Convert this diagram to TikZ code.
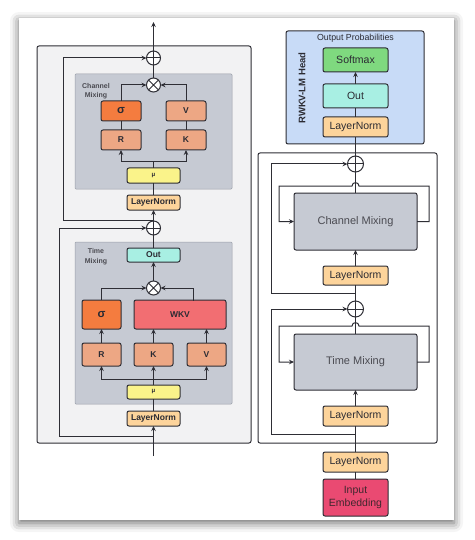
\documentclass[tikz,border=0pt]{standalone}
\usepackage{fontspec}
\setmainfont{Liberation Sans}
\usetikzlibrary{arrows.meta,shadows.blur,calc}
\definecolor{bd}{HTML}{2E2E35}
\definecolor{txt}{HTML}{2B2B33}
\definecolor{lnc}{HTML}{FDD49B}
\definecolor{muc}{HTML}{FAF38A}
\definecolor{rkv}{HTML}{EDA784}
\definecolor{sig}{HTML}{F47C3F}
\definecolor{wkvc}{HTML}{F26E72}
\definecolor{outc}{HTML}{A8EFE3}
\definecolor{grayp}{HTML}{C6CAD3}
\definecolor{grayb}{HTML}{9A9FA9}
\definecolor{lightp}{HTML}{F2F2F3}
\definecolor{headc}{HTML}{C8DBF7}
\definecolor{smc}{HTML}{7FD97F}
\definecolor{embc}{HTML}{EA4A72}
\begin{document}
\begin{tikzpicture}[x=1pt,y=-1pt,
  every node/.style={inner sep=0pt,outer sep=0pt},
  box/.style={draw=bd,line width=1pt,rounded corners=2pt,text=txt,align=center},
  lb/.style={box,font=\bfseries\fontsize{8.5}{9}\selectfont},
  rb/.style={box,minimum width=65pt,font=\fontsize{10.5}{12.7}\selectfont},
  op/.style={circle,draw=bd,line width=1pt,minimum size=14pt,fill=white},
  conn/.style={draw=bd,line width=1pt},
  ar/.style={conn,-{Stealth[length=5pt,width=4.5pt]}},
  panel/.style={draw=bd,line width=1pt,rounded corners=2pt},
  gpanel/.style={draw=grayb,line width=0.5pt,fill=grayp,rounded corners=1pt}
]
\useasboundingbox (0,0) rectangle (474,540);
% card
\fill[white,blur shadow={shadow xshift=0pt,shadow yshift=-3pt,shadow blur radius=9pt,shadow opacity=60}] (19,18) rectangle (454,520);

% ================= LEFT =================
\filldraw[panel,fill=lightp] (37,46) rectangle (251,443);
\filldraw[gpanel] (75,74) rectangle (232,189);
\filldraw[gpanel] (75,242) rectangle (232,404);
\node[font=\bfseries\fontsize{7}{9}\selectfont,text=txt!85,align=center] (lcm) at (96,91) {Channel\\Mixing};
\node[font=\bfseries\fontsize{7}{10}\selectfont,text=txt!85,align=center] (ltm) at (96,257) {Time\\Mixing};

% channel mixing block
\node[op] (pc1) at (153.5,58) {};
\node[op] (oc) at (153.5,85) {};
\node[lb,fill=sig,minimum width=40pt,minimum height=20pt,font=\bfseries\fontsize{11.5}{12}\selectfont] (sc) at (121,111) {σ};
\node[lb,fill=rkv,minimum width=40pt,minimum height=20pt] (vc) at (186,111) {V};
\node[lb,fill=rkv,minimum width=40pt,minimum height=20pt] (rc) at (121,140) {R};
\node[lb,fill=rkv,minimum width=40pt,minimum height=20pt] (kc) at (186,140) {K};
\node[lb,fill=muc,minimum width=53pt,minimum height=15pt,font=\bfseries\fontsize{6}{7}\selectfont] (mc) at (153.5,175.5) {μ};
\node[lb,fill=lnc,minimum width=53pt,minimum height=15pt] (lc) at (153.5,202.5) {LayerNorm};

% time mixing block
\node[op] (pc2) at (153.5,228) {};
\node[lb,fill=outc,minimum width=53pt,minimum height=14pt] (ot) at (153.5,255) {Out};
\node[op] (xt) at (153.5,288) {};
\node[lb,fill=sig,minimum width=39pt,minimum height=29pt,font=\bfseries\fontsize{11.5}{12}\selectfont] (st) at (101.5,314.5) {σ};
\node[lb,fill=wkvc,minimum width=92pt,minimum height=29pt] (wk) at (180,314.5) {WKV};
\node[lb,fill=rkv,minimum width=39pt,minimum height=23pt] (rt) at (101.5,354.5) {R};
\node[lb,fill=rkv,minimum width=39pt,minimum height=23pt] (kt) at (153.5,354.5) {K};
\node[lb,fill=rkv,minimum width=39pt,minimum height=23pt] (vt) at (206.5,354.5) {V};
\node[lb,fill=muc,minimum width=53pt,minimum height=14pt,font=\bfseries\fontsize{6}{7}\selectfont] (mt) at (153.5,392) {μ};
\node[lb,fill=lnc,minimum width=53pt,minimum height=15pt] (lt) at (153.5,418.5) {LayerNorm};

\coordinate (ltop) at (153.5,22);
\coordinate (lin) at (153.5,456);
\coordinate (s1) at (153.5,220);
\coordinate (s1a) at (63,220);
\coordinate (s2) at (153.5,436);
\coordinate (s2a) at (59,436);
\coordinate (bc) at (153.5,162);
\coordinate (bt) at (153.5,379);
\coordinate (wkt) at (193,300.5);

% crosses
\draw[conn] (pc1.north) -- (pc1.south) (pc1.west) -- (pc1.east);
\draw[conn] (pc2.north) -- (pc2.south) (pc2.west) -- (pc2.east);
\draw[conn] (oc.north west) -- (oc.south east) (oc.north east) -- (oc.south west);
\draw[conn] (xt.north west) -- (xt.south east) (xt.north east) -- (xt.south west);

% channel connectors
\draw[ar] (pc1.north) -- (ltop);
\draw[conn] (oc.north) -- (pc1.south);
\draw[ar] (sc.north) |- (oc.west);
\draw[ar] (vc.north) |- (oc.east);
\draw[conn] (rc) -- (sc);
\draw[conn] (kc) -- (vc);
\draw[conn] (mc.north) -- (bc);
\draw[ar] (bc) -| (rc.south);
\draw[ar] (bc) -| (kc.south);
\draw[conn] (lc) -- (mc);
\draw[ar] (s1) -- (s1a) |- (pc1.west);
\draw[ar] (pc2.north) -- (lc.south);

% time connectors
\draw[conn] (ot.north) -- (pc2.south);
\draw[ar] (xt.north) -- (ot.south);
\draw[ar] (st.north) |- (xt.west);
\draw[ar] (wkt) |- (xt.east);
\draw[ar] (rt) -- (st);
\draw[ar] (kt.north) -- (kt |- wk.south);
\draw[ar] (vt.north) -- (vt |- wk.south);
\draw[ar] (mt.north) -- (kt.south);
\draw[ar] (bt) -| (rt.south);
\draw[ar] (bt) -| (vt.south);
\draw[conn] (lt) -- (mt);
\draw[ar] (lin) -- (lt.south);
\draw[ar] (s2) -- (s2a) |- (pc2.west);

% ================= RIGHT =================
\filldraw[panel,fill=headc] (286,31) rectangle (424,144);
\filldraw[panel,fill=white] (258,153) rectangle (437,443);
\node[font=\fontsize{8.8}{10}\selectfont,text=txt] (opl) at (355.5,38.5) {Output Probabilities};
\node[font=\bfseries\fontsize{9.5}{10}\selectfont,text=txt,rotate=90] (hdl) at (302,88) {RWKV-LM Head};
\node[rb,fill=smc,minimum height=24pt] (smx) at (355.5,60) {Softmax};
\node[rb,fill=outc,minimum height=24pt] (oh) at (355.5,96) {Out};
\node[rb,fill=lnc,minimum height=20pt] (lh) at (355.5,127) {LayerNorm};

\node[op,minimum size=16pt] (pc3) at (355.5,164) {};
\node[box,fill=grayp,minimum width=123pt,minimum height=57pt,font=\fontsize{11}{12}\selectfont,text=txt!85] (cm) at (355.5,221.5) {Channel Mixing};
\node[rb,fill=lnc,minimum height=19pt] (l2) at (355.5,275.5) {LayerNorm};
\node[op,minimum size=16pt] (pc4) at (355.5,309) {};
\node[box,fill=grayp,minimum width=123pt,minimum height=56pt,font=\fontsize{11}{12}\selectfont,text=txt!85] (tm) at (355.5,362) {Time Mixing};
\node[rb,fill=lnc,minimum height=20pt] (l3) at (355.5,416) {LayerNorm};
\node[rb,fill=lnc,minimum height=20pt] (l4) at (355.5,462) {LayerNorm};
\node[rb,fill=embc,minimum height=37pt,text=txt!90!red] (emb) at (355.5,497.5) {Input\\Embedding};

\draw[conn] (pc3.north) -- (pc3.south) (pc3.west) -- (pc3.east);
\draw[conn] (pc4.north) -- (pc4.south) (pc4.west) -- (pc4.east);

\coordinate (s3) at (355.5,293);
\coordinate (s3a) at (271,293);
\coordinate (s4) at (355.5,434);
\coordinate (s4a) at (271,434);

\draw[ar] (oh) -- (smx);
\draw[conn] (lh) -- (oh);
\draw[conn] (pc3.north) -- (lh.south);
\draw[conn] (cm.north) -- (pc3.south);
\draw[ar] (l2) -- (cm);
\draw[conn] (pc4.north) -- (l2.south);
\draw[ar] (s3) -- (s3a) |- (pc3.west);
\draw[conn] (tm.north) -- (pc4.south);
\draw[ar] (l3) -- (tm);
\draw[ar] (s4) -- (s4a) |- (pc4.west);
\draw[conn] (l4) -- (l3);
\draw[conn] (emb) -- (l4);

% recurrent loops with hop
\draw[ar] (cm.east) -- ++(12,0) |- (359,186) .. controls (359,181.5) and (352,181.5) .. (352,186) -| (279,221.5) -- (cm.west);
\draw[ar] (tm.east) -- ++(12,0) |- (359,326) .. controls (359,321.5) and (352,321.5) .. (352,326) -| (279,362) -- (tm.west);
\end{tikzpicture}
\end{document}
